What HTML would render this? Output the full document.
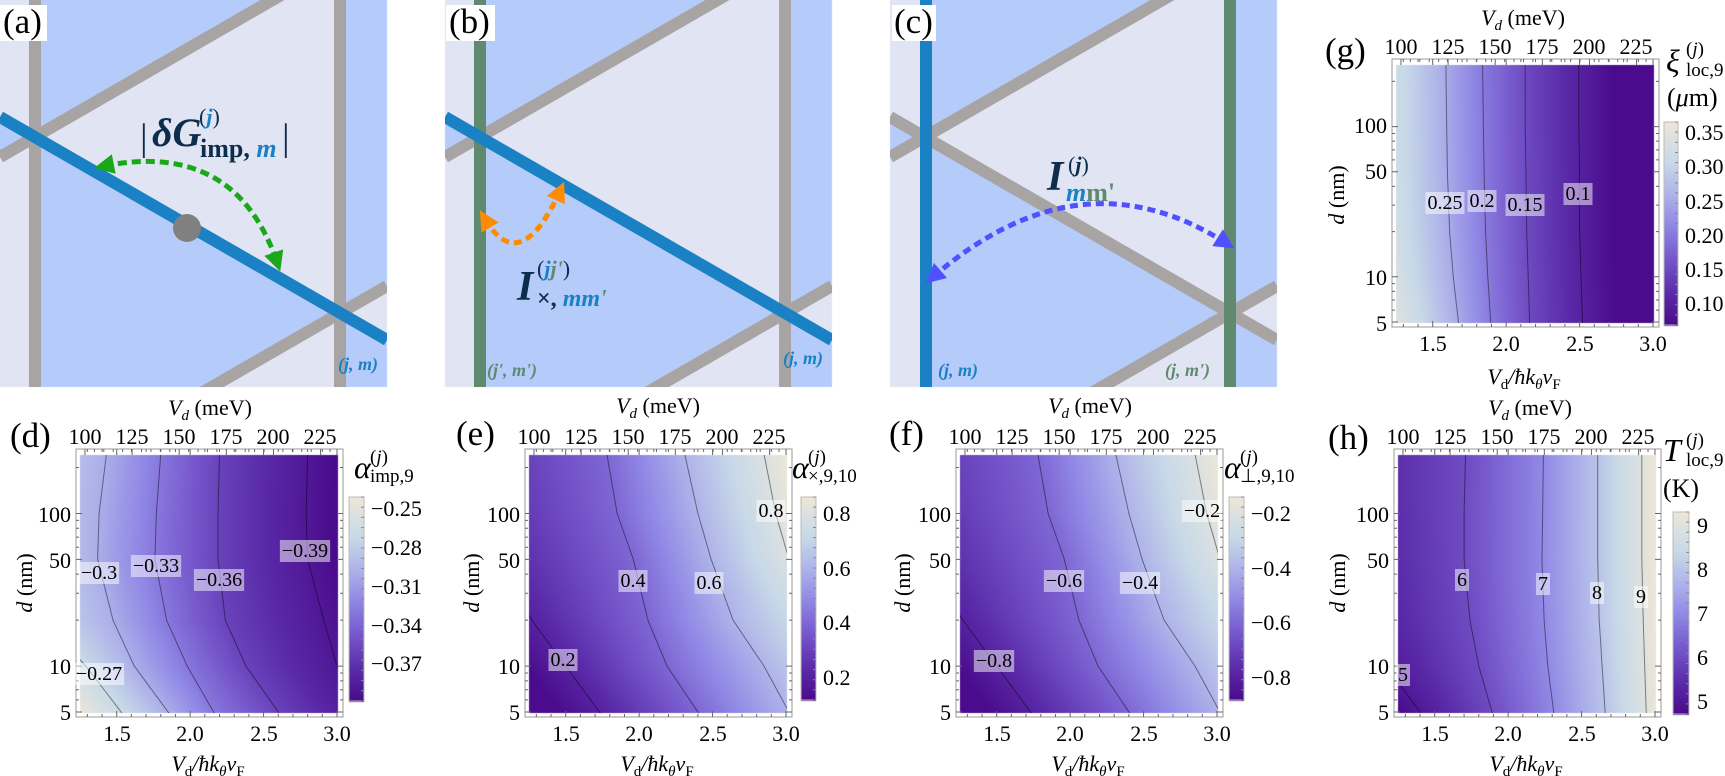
<!DOCTYPE html>
<html><head><meta charset="utf-8"><style>
body{margin:0;background:#fff;width:1725px;height:776px;overflow:hidden;position:relative}
canvas,svg{position:absolute;left:0;top:0}
text{font-family:"Liberation Serif",serif;fill:#000}
.s{font-family:"Liberation Sans",sans-serif;font-size:20px}
.tk{font-size:22px}
.ax{font-size:22px}
.pl{font-size:35px}
.lb{font-weight:bold;font-style:italic;font-size:18px}
</style></head><body>
<canvas id="c" width="1725" height="776"></canvas>
<svg id="s" width="1725" height="776" xmlns="http://www.w3.org/2000/svg">
<defs>
<clipPath id="ca"><rect x="0" y="0" width="387" height="387"/></clipPath>
<clipPath id="cb"><rect x="445" y="0" width="387" height="387"/></clipPath>
<clipPath id="cc"><rect x="890" y="0" width="387" height="387"/></clipPath>
<marker id="mg" viewBox="0 0 10 10" refX="5" refY="5" markerWidth="4" markerHeight="4" orient="auto-start-reverse" markerUnits="strokeWidth"><path d="M0,0 L10,5 L0,10 z" fill="#1aa81a"/></marker>
<marker id="mo" viewBox="0 0 10 10" refX="5" refY="5" markerWidth="4" markerHeight="4" orient="auto-start-reverse" markerUnits="strokeWidth"><path d="M0,0 L10,5 L0,10 z" fill="#ff8c00"/></marker>
<marker id="mb" viewBox="0 0 10 10" refX="5" refY="5" markerWidth="4" markerHeight="4" orient="auto-start-reverse" markerUnits="strokeWidth"><path d="M0,0 L10,5 L0,10 z" fill="#5050ff"/></marker>
</defs>

<g clip-path="url(#ca)" stroke-width="12" fill="none">
<line x1="35" y1="0" x2="35" y2="387" stroke="#a8a4a4"/>
<line x1="340" y1="0" x2="340" y2="387" stroke="#a8a4a4"/>
<line x1="0" y1="157" x2="387" y2="-66" stroke="#a8a4a4"/>
<line x1="0" y1="509" x2="387" y2="286" stroke="#a8a4a4"/>
<line x1="0" y1="117" x2="387" y2="340" stroke="#1a82c4"/>
</g>
<g clip-path="url(#cb)" stroke-width="12" fill="none">
<line x1="785" y1="0" x2="785" y2="387" stroke="#a8a4a4"/>
<line x1="445" y1="157" x2="832" y2="-66" stroke="#a8a4a4"/>
<line x1="445" y1="509" x2="832" y2="286" stroke="#a8a4a4"/>
<line x1="480" y1="0" x2="480" y2="387" stroke="#5f8a6f"/>
<line x1="445" y1="117" x2="832" y2="340" stroke="#1a82c4"/>
</g>
<g clip-path="url(#cc)" stroke-width="12" fill="none">
<line x1="890" y1="157" x2="1277" y2="-66" stroke="#a8a4a4"/>
<line x1="890" y1="509" x2="1277" y2="286" stroke="#a8a4a4"/>
<line x1="890" y1="117" x2="1277" y2="340" stroke="#a8a4a4"/>
<line x1="926" y1="0" x2="926" y2="387" stroke="#1a82c4"/>
<line x1="1230" y1="0" x2="1230" y2="387" stroke="#5f8a6f"/>
</g>

<circle cx="187" cy="228" r="14" fill="#808080"/>
<path d="M104,166 Q235,140 277,262" fill="none" stroke="#1aa81a" stroke-width="5" stroke-dasharray="9,5" marker-start="url(#mg)" marker-end="url(#mg)"/>
<text x="140" y="150" font-size="38" style="fill:#0d2d4d">|</text>
<text x="152" y="146" font-size="40" font-weight="bold" font-style="italic" style="fill:#0d2d4d">δG</text>
<text x="199" y="124" font-size="22" style="fill:#0d2d4d">(<tspan font-style="italic" font-weight="bold" style="fill:#1a82c4">j</tspan>)</text>
<text x="200" y="157" font-size="26" font-weight="bold" style="fill:#0d2d4d">imp, <tspan font-style="italic" style="fill:#1a82c4">m</tspan></text>
<text x="282" y="150" font-size="38" style="fill:#0d2d4d">|</text>
<text x="338" y="370" class="lb" style="fill:#1a82c4">(j, m)</text>
<rect x="0" y="5" width="47" height="36" fill="#fff"/>
<text x="3" y="33" class="pl" font-size="32">(a)</text>

<path d="M485,219 Q520,278 560,191" fill="none" stroke="#ff8c00" stroke-width="5" stroke-dasharray="8,5" marker-start="url(#mo)" marker-end="url(#mo)"/>
<text x="517" y="300" font-size="42" font-weight="bold" font-style="italic" style="fill:#0d2d4d">I</text>
<text x="537" y="276" font-size="22" style="fill:#0d2d4d">(<tspan font-style="italic" font-weight="bold" style="fill:#1a82c4">j</tspan><tspan font-style="italic" font-weight="bold" style="fill:#5f8a6f">j'</tspan>)</text>
<text x="537" y="306" font-size="24" font-weight="bold" style="fill:#0d2d4d">×, <tspan font-style="italic" style="fill:#1a82c4">mm</tspan><tspan font-style="italic" style="fill:#5f8a6f">'</tspan></text>
<text x="487" y="376" class="lb" style="fill:#5f8a6f">(j', m')</text>
<text x="783" y="364" class="lb" style="fill:#1a82c4">(j, m)</text>
<rect x="446" y="5" width="49" height="36" fill="#fff"/>
<text x="449" y="33" class="pl" font-size="32">(b)</text>

<path d="M933,277 Q1080,150 1226,243" fill="none" stroke="#5050ff" stroke-width="5" stroke-dasharray="8,5" marker-start="url(#mb)" marker-end="url(#mb)"/>
<text x="1047" y="190" font-size="42" font-weight="bold" font-style="italic" style="fill:#0d2d4d">I</text>
<text x="1068" y="172" font-size="22" style="fill:#0d2d4d">(<tspan font-style="italic" font-weight="bold">j</tspan>)</text>
<text x="1066" y="201" font-size="26" font-weight="bold"><tspan font-style="italic" style="fill:#1a82c4">m</tspan><tspan style="fill:#5f8a6f">m'</tspan></text>
<text x="938" y="376" class="lb" style="fill:#1a82c4">(j, m)</text>
<text x="1165" y="376" class="lb" style="fill:#5f8a6f">(j, m')</text>
<rect x="892" y="5" width="44" height="36" fill="#fff"/>
<text x="894" y="33" class="pl" font-size="32">(c)</text>

<g id="dyn"></g>

<text x="10" y="447" class="pl">(d)</text>
<text x="456" y="445" class="pl">(e)</text>
<text x="889" y="445" class="pl">(f)</text>
<text x="1325" y="62" class="pl">(g)</text>
<text x="1328" y="449" class="pl">(h)</text>

<g class="ax" text-anchor="middle">
<text x="210" y="415"><tspan font-style="italic">V</tspan><tspan font-style="italic" font-size="15" dy="5">d</tspan><tspan dy="-5"> (meV)</tspan></text>
<text x="658" y="413"><tspan font-style="italic">V</tspan><tspan font-style="italic" font-size="15" dy="5">d</tspan><tspan dy="-5"> (meV)</tspan></text>
<text x="1090" y="413"><tspan font-style="italic">V</tspan><tspan font-style="italic" font-size="15" dy="5">d</tspan><tspan dy="-5"> (meV)</tspan></text>
<text x="1523" y="25"><tspan font-style="italic">V</tspan><tspan font-style="italic" font-size="15" dy="5">d</tspan><tspan dy="-5"> (meV)</tspan></text>
<text x="1530" y="415"><tspan font-style="italic">V</tspan><tspan font-style="italic" font-size="15" dy="5">d</tspan><tspan dy="-5"> (meV)</tspan></text>
</g>
<g class="ax" text-anchor="middle">
<text x="208" y="771"><tspan font-style="italic">V</tspan><tspan font-size="15" dy="5">d</tspan><tspan dy="-5" font-style="italic">/ħk</tspan><tspan font-style="italic" font-size="15" dy="5">θ</tspan><tspan dy="-5" font-style="italic">v</tspan><tspan font-size="15" dy="5">F</tspan></text>
<text x="657" y="771"><tspan font-style="italic">V</tspan><tspan font-size="15" dy="5">d</tspan><tspan dy="-5" font-style="italic">/ħk</tspan><tspan font-style="italic" font-size="15" dy="5">θ</tspan><tspan dy="-5" font-style="italic">v</tspan><tspan font-size="15" dy="5">F</tspan></text>
<text x="1088" y="771"><tspan font-style="italic">V</tspan><tspan font-size="15" dy="5">d</tspan><tspan dy="-5" font-style="italic">/ħk</tspan><tspan font-style="italic" font-size="15" dy="5">θ</tspan><tspan dy="-5" font-style="italic">v</tspan><tspan font-size="15" dy="5">F</tspan></text>
<text x="1524" y="384"><tspan font-style="italic">V</tspan><tspan font-size="15" dy="5">d</tspan><tspan dy="-5" font-style="italic">/ħk</tspan><tspan font-style="italic" font-size="15" dy="5">θ</tspan><tspan dy="-5" font-style="italic">v</tspan><tspan font-size="15" dy="5">F</tspan></text>
<text x="1526" y="771"><tspan font-style="italic">V</tspan><tspan font-size="15" dy="5">d</tspan><tspan dy="-5" font-style="italic">/ħk</tspan><tspan font-style="italic" font-size="15" dy="5">θ</tspan><tspan dy="-5" font-style="italic">v</tspan><tspan font-size="15" dy="5">F</tspan></text>
</g>
<g class="ax" text-anchor="middle">
<text transform="translate(32,583) rotate(-90)"><tspan font-style="italic">d</tspan> (nm)</text>
<text transform="translate(479,583) rotate(-90)"><tspan font-style="italic">d</tspan> (nm)</text>
<text transform="translate(910,583) rotate(-90)"><tspan font-style="italic">d</tspan> (nm)</text>
<text transform="translate(1344,195) rotate(-90)"><tspan font-style="italic">d</tspan> (nm)</text>
<text transform="translate(1345,583) rotate(-90)"><tspan font-style="italic">d</tspan> (nm)</text>
</g>

<text x="354" y="478" font-size="32" font-style="italic">α</text>
<text x="370" y="463" font-size="19">(<tspan font-style="italic">j</tspan>)</text>
<text x="370" y="482" font-size="19">imp,9</text>
<text x="792" y="478" font-size="32" font-style="italic">α</text>
<text x="808" y="463" font-size="19">(<tspan font-style="italic">j</tspan>)</text>
<text x="808" y="482" font-size="19">×,9,10</text>
<text x="1224" y="478" font-size="32" font-style="italic">α</text>
<text x="1240" y="463" font-size="19">(<tspan font-style="italic">j</tspan>)</text>
<text x="1240" y="482" font-size="19">⊥,9,10</text>
<text x="1666" y="72" font-size="32" font-style="italic">ξ</text>
<text x="1686" y="55" font-size="19">(<tspan font-style="italic">j</tspan>)</text>
<text x="1686" y="76" font-size="19">loc,9</text>
<text x="1667" y="106" font-size="26">(<tspan font-style="italic">μ</tspan>m)</text>
<text x="1663" y="461" font-size="32" font-style="italic">T</text>
<text x="1686" y="446" font-size="19">(<tspan font-style="italic">j</tspan>)</text>
<text x="1686" y="466" font-size="19">loc,9</text>
<text x="1663" y="497" font-size="26">(K)</text>

<g id="labs" class="s" text-anchor="middle">
<text x="99" y="579">−0.3</text>
<text x="156" y="572">−0.33</text>
<text x="219" y="586">−0.36</text>
<text x="305" y="557">−0.39</text>
<text x="99" y="680">−0.27</text>
<text x="563" y="666">0.2</text>
<text x="633" y="587">0.4</text>
<text x="709" y="589">0.6</text>
<text x="771" y="517">0.8</text>
<text x="994" y="667">−0.8</text>
<text x="1064" y="587">−0.6</text>
<text x="1140" y="589">−0.4</text>
<text x="1202" y="517">−0.2</text>
<text x="1445" y="209">0.25</text>
<text x="1482" y="207">0.2</text>
<text x="1525" y="211">0.15</text>
<text x="1578" y="200">0.1</text>
<text x="1462" y="586">6</text>
<text x="1543" y="590">7</text>
<text x="1597" y="599">8</text>
<text x="1641" y="603">9</text>
<text x="1403" y="681">5</text>
</g>

<g class="tk">
<text x="71" y="522" text-anchor="end">100</text>
<text x="71" y="568" text-anchor="end">50</text>
<text x="71" y="674" text-anchor="end">10</text>
<text x="71" y="720" text-anchor="end">5</text>
<text x="520" y="522" text-anchor="end">100</text>
<text x="520" y="568" text-anchor="end">50</text>
<text x="520" y="674" text-anchor="end">10</text>
<text x="520" y="720" text-anchor="end">5</text>
<text x="951" y="522" text-anchor="end">100</text>
<text x="951" y="568" text-anchor="end">50</text>
<text x="951" y="674" text-anchor="end">10</text>
<text x="951" y="720" text-anchor="end">5</text>
<text x="1387" y="133" text-anchor="end">100</text>
<text x="1387" y="179" text-anchor="end">50</text>
<text x="1387" y="285" text-anchor="end">10</text>
<text x="1387" y="331" text-anchor="end">5</text>
<text x="1389" y="522" text-anchor="end">100</text>
<text x="1389" y="568" text-anchor="end">50</text>
<text x="1389" y="674" text-anchor="end">10</text>
<text x="1389" y="720" text-anchor="end">5</text>
</g>
<g class="tk" text-anchor="middle">
<text x="117" y="741">1.5</text><text x="190" y="741">2.0</text><text x="264" y="741">2.5</text><text x="337" y="741">3.0</text>
<text x="566" y="741">1.5</text><text x="639" y="741">2.0</text><text x="713" y="741">2.5</text><text x="786" y="741">3.0</text>
<text x="997" y="741">1.5</text><text x="1070" y="741">2.0</text><text x="1144" y="741">2.5</text><text x="1217" y="741">3.0</text>
<text x="1433" y="351">1.5</text><text x="1506" y="351">2.0</text><text x="1580" y="351">2.5</text><text x="1653" y="351">3.0</text>
<text x="1435" y="741">1.5</text><text x="1508" y="741">2.0</text><text x="1582" y="741">2.5</text><text x="1655" y="741">3.0</text>
<text x="85" y="444">100</text><text x="132" y="444">125</text><text x="179" y="444">150</text><text x="226" y="444">175</text><text x="273" y="444">200</text><text x="320" y="444">225</text>
<text x="534" y="444">100</text><text x="581" y="444">125</text><text x="628" y="444">150</text><text x="675" y="444">175</text><text x="722" y="444">200</text><text x="769" y="444">225</text>
<text x="965" y="444">100</text><text x="1012" y="444">125</text><text x="1059" y="444">150</text><text x="1106" y="444">175</text><text x="1153" y="444">200</text><text x="1200" y="444">225</text>
<text x="1401" y="54">100</text><text x="1448" y="54">125</text><text x="1495" y="54">150</text><text x="1542" y="54">175</text><text x="1589" y="54">200</text><text x="1636" y="54">225</text>
<text x="1403" y="444">100</text><text x="1450" y="444">125</text><text x="1497" y="444">150</text><text x="1544" y="444">175</text><text x="1591" y="444">200</text><text x="1638" y="444">225</text>
</g>
<g class="tk">
<text x="371" y="516">−0.25</text><text x="371" y="555">−0.28</text><text x="371" y="594">−0.31</text><text x="371" y="633">−0.34</text><text x="371" y="671">−0.37</text>
<text x="823" y="521">0.8</text><text x="823" y="576">0.6</text><text x="823" y="630">0.4</text><text x="823" y="685">0.2</text>
<text x="1251" y="521">−0.2</text><text x="1251" y="576">−0.4</text><text x="1251" y="630">−0.6</text><text x="1251" y="685">−0.8</text>
<text x="1685" y="140">0.35</text><text x="1685" y="174">0.30</text><text x="1685" y="209">0.25</text><text x="1685" y="243">0.20</text><text x="1685" y="277">0.15</text><text x="1685" y="311">0.10</text>
<text x="1697" y="533">9</text><text x="1697" y="577">8</text><text x="1697" y="621">7</text><text x="1697" y="665">6</text><text x="1697" y="709">5</text>
</g>
</svg>
<script>
(function(){
var cv=document.getElementById('c'),ctx=cv.getContext('2d');
var W=1725,H=776,img=ctx.createImageData(W,H),D=img.data;
for(var i=0;i<D.length;i+=4){D[i]=255;D[i+1]=255;D[i+2]=255;D[i+3]=255;}
function setp(x,y,r,g,b){var k=(y*W+x)*4;D[k]=r;D[k+1]=g;D[k+2]=b;}
[0,445,890].forEach(function(ox){
 for(var y=0;y<387;y++)for(var x=0;x<387;x++){
  var i=Math.floor((x-35)/305),j=Math.floor((y-0.577*x-117)/352),k=Math.floor((y+0.577*x-157)/352);
  var p=((i+j+k)%2+2)%2;
  if(p==0)setp(ox+x,y,181,203,250);else setp(ox+x,y,225,228,242);
 }
});
var st=[[0,[74,12,140]],[0.15,[90,42,168]],[0.35,[122,94,208]],[0.5,[146,138,230]],[0.65,[175,180,234]],[0.8,[200,217,232]],[0.9,[216,224,227]],[1,[239,231,214]]];
function cm(t){t=Math.max(0,Math.min(1,t));for(var i=1;i<st.length;i++){if(t<=st[i][0]){var a=st[i-1],b=st[i],f=(t-a[0])/(b[0]-a[0]);return [a[1][0]+f*(b[1][0]-a[1][0]),a[1][1]+f*(b[1][1]-a[1][1]),a[1][2]+f*(b[1][2]-a[1][2])];}}return st[st.length-1][1];}
var VS=[0.699,1.0,1.3,1.7,2.0,2.39];
function interp(arr,v){if(v<=VS[0])return arr[0]+(v-VS[0])*(arr[1]-arr[0])/(VS[1]-VS[0]);for(var i=1;i<VS.length;i++){if(v<=VS[i]){var f=(v-VS[i-1])/(VS[i]-VS[i-1]);return arr[i-1]+f*(arr[i]-arr[i-1]);}}var n=VS.length;return arr[n-1]+(v-VS[n-1])*(arr[n-1]-arr[n-2])/(VS[n-1]-VS[n-2]);}
var eP=[[1.73,1.50,1.27,1.0,0.85,0.7],[2.40,2.19,2.06,1.96,1.85,1.78],[3.02,2.85,2.64,2.49,2.40,2.31],[3.6,3.45,3.3,3.02,2.93,2.85]];
var P=[
{L:80,R:337,T:455,B:712,vt:2.383,vals:[-0.27,-0.30,-0.33,-0.36,-0.39],pos:[[1.53,1.29,1.0,0.85,0.8,0.85],[1.85,1.62,1.475,1.37,1.38,1.43],[2.16,1.98,1.84,1.76,1.77,1.80],[2.60,2.38,2.24,2.19,2.19,2.20],[3.15,3.0,2.91,2.80,2.79,2.80]],mn:-0.399,mx:-0.2415,cb:[349,497,15,204]},
{L:529,R:786,T:455,B:712,vt:2.383,vals:[0.2,0.4,0.6,0.8],pos:eP,mn:0.116,mx:0.86,cb:[801,497,15,203]},
{L:960,R:1217,T:455,B:712,vt:2.383,vals:[-0.8,-0.6,-0.4,-0.2],pos:eP,mn:-0.884,mx:-0.141,cb:[1229,497,15,203]},
{L:1396,R:1653,T:65,B:322,vt:2.41,vals:[0.25,0.2,0.15,0.1],pos:[[1.675,1.64,1.615,1.60,1.595,1.59],[1.895,1.875,1.86,1.85,1.845,1.84],[2.16,2.15,2.14,2.135,2.13,2.13],[2.52,2.51,2.50,2.50,2.495,2.495]],mn:0.068,mx:0.365,cb:[1664,122,14,203]},
{L:1398,R:1655,T:455,B:712,vt:2.383,vals:[5,6,7,8,9],pos:[[1.40,1.17,1.0,0.9,0.85,0.8],[1.89,1.80,1.74,1.70,1.70,1.71],[2.31,2.27,2.245,2.23,2.235,2.24],[2.66,2.64,2.62,2.61,2.61,2.61],[2.94,2.93,2.92,2.91,2.91,2.91]],mn:4.7,mx:9.3,cb:[1673,512,16,202]}
];
var NS='http://www.w3.org/2000/svg',dyn=document.getElementById('dyn');
function el(n,a){var e=document.createElementNS(NS,n);for(var k in a)e.setAttribute(k,a[k]);dyn.appendChild(e);return e;}
P.forEach(function(p){
 var sx=(p.R-p.L)/1.75,sy=(p.B-p.T)/(p.vt-0.699);
 function val(u,v){var ps=p.pos.map(function(a){return interp(a,v);}),vl=p.vals,n=ps.length;
  if(u<=ps[0])return vl[0]+(u-ps[0])*(vl[1]-vl[0])/(ps[1]-ps[0]);
  for(var i=1;i<n;i++)if(u<=ps[i])return vl[i-1]+(u-ps[i-1])*(vl[i]-vl[i-1])/(ps[i]-ps[i-1]);
  return vl[n-1]+(u-ps[n-1])*(vl[n-1]-vl[n-2])/(ps[n-1]-ps[n-2]);}
 for(var y=p.T;y<=p.B;y++){var v=0.699+(p.B-y)/sy;
  for(var x=p.L;x<=p.R;x++){var u=1.25+(x-p.L)/sx;var t=(val(u,v)-p.mn)/(p.mx-p.mn);var c=cm(t);setp(x,y,c[0]|0,c[1]|0,c[2]|0);}}
 var cb=p.cb;
 for(var y=cb[1];y<=cb[1]+cb[3];y++){var c=cm(1-(y-cb[1])/cb[3]);for(var x=cb[0];x<cb[0]+cb[2];x++)setp(x,y,c[0]|0,c[1]|0,c[2]|0);}
 el('rect',{x:cb[0],y:cb[1],width:cb[2],height:cb[3],fill:'none',stroke:'#bbb','stroke-width':1});
 var id='cl'+p.L;var cp=el('clipPath',{id:id});var r=document.createElementNS(NS,'rect');r.setAttribute('x',p.L);r.setAttribute('y',p.T);r.setAttribute('width',p.R-p.L+1);r.setAttribute('height',p.B-p.T+1);cp.appendChild(r);
 p.pos.forEach(function(a){var d='';for(var v=0.6;v<=p.vt+0.1;v+=0.02){var u=interp(a,v);d+=(d?'L':'M')+(p.L+(u-1.25)*sx).toFixed(1)+','+(p.B-(v-0.699)*sy).toFixed(1);}
  el('path',{d:d,fill:'none',stroke:'rgba(0,0,0,0.45)','stroke-width':1,'clip-path':'url(#'+id+')'});});
 var fx0=p.L-4,fy0=p.T-6,fx1=p.R+6,fy1=p.B+5;
 el('rect',{x:fx0,y:fy0,width:fx1-fx0,height:fy1-fy0,fill:'none',stroke:'#999','stroke-width':1});
 var d='';
 for(var k=13;k<=30;k++){var u=k/10,x=p.L+(u-1.25)*sx,len=(k%5==0)?6:3;d+='M'+x+','+fy1+'v'+(-len)+'M'+x+','+fy0+'v'+len;}
 for(var m=100;m<=230;m+=5){var u=m/77.9,x=p.L+(u-1.25)*sx;if(x>p.R)break;var len=(m%25==0)?6:3;d+='M'+x+','+fy0+'v'+len;}
 [5,6,7,8,9,10,20,30,40,50,60,70,80,90,100,200].forEach(function(n){var y=p.B-(Math.log10(n)-0.699)*sy;if(y<p.T)return;var len=(n==5||n==10||n==50||n==100)?6:3;d+='M'+fx0+','+y+'h'+len+'M'+fx1+','+y+'h'+(-len);});
 el('path',{d:d,stroke:'#666','stroke-width':1,fill:'none'});
 var d2='';for(var k=0;k<=20;k++){var y=cb[1]+k*cb[3]/20;d2+='M'+(cb[0]+cb[2])+','+y+'h-3';}
 el('path',{d:d2,stroke:'#888','stroke-width':1,fill:'none'});
});
ctx.putImageData(img,0,0);
var labs=document.getElementById('labs');
Array.prototype.slice.call(labs.querySelectorAll('text')).forEach(function(t){
 try{var b=t.getBBox();var r=document.createElementNS(NS,'rect');r.setAttribute('x',b.x-2);r.setAttribute('y',b.y);r.setAttribute('width',b.width+4);r.setAttribute('height',b.height);r.setAttribute('fill','rgba(255,255,255,0.5)');labs.insertBefore(r,t);}catch(e){}
});
})();
</script>
</body></html>
